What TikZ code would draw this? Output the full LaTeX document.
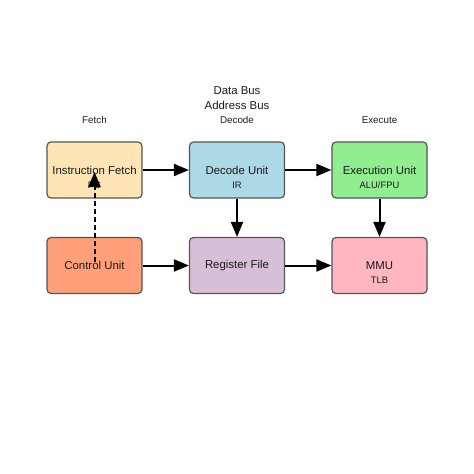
\documentclass[tikz,border=0pt]{standalone}
\usepackage{fontspec}
\setmainfont{Liberation Sans}
\usetikzlibrary{arrows.meta}

\definecolor{fetchfill}{HTML}{FFE4B5}
\definecolor{decodefill}{HTML}{ADD8E6}
\definecolor{execfill}{HTML}{90EE90}
\definecolor{controlfill}{HTML}{FFA07A}
\definecolor{regfill}{HTML}{D8BFD8}
\definecolor{mmufill}{HTML}{FFB6C1}
\definecolor{edge}{HTML}{555555}
\definecolor{ink}{HTML}{1A1A1A}

\begin{document}
\begin{tikzpicture}
  [x=1pt, y=-1pt,
   unit/.style={draw=edge, line width=1.2pt, rounded corners=4pt,
     minimum width=95pt, minimum height=56pt, text=ink,
     font=\fontsize{11.4}{13}\selectfont},
   sub/.style={text=ink, font=\fontsize{9.4}{11}\selectfont},
   stage/.style={text=ink, font=\fontsize{9.8}{12}\selectfont},
   bus/.style={text=ink, font=\fontsize{11.4}{13}\selectfont},
   flow/.style={line width=2pt, -{Triangle[length=15pt, width=12pt]}}]
  \useasboundingbox (0, 0) rectangle (474, 474);

  % bus labels and stage names
  \node[bus] (data) at (237, 91) {Data Bus};
  \node[bus] (addr) at (237, 105) {Address Bus};
  \node[stage] (s1) at (94.5, 120) {Fetch};
  \node[stage] (s2) at (237, 120) {Decode};
  \node[stage] (s3) at (379.5, 120) {Execute};

  % units
  \node[unit, fill=fetchfill] (fetch) at (94.5, 170) {Instruction Fetch};
  \node[sub] (pc) at (94.5, 185) {PC};
  \node[unit, fill=decodefill] (decode) at (237, 170) {Decode Unit};
  \node[sub] (ir) at (237, 185) {IR};
  \node[unit, fill=execfill] (exec) at (379.5, 170) {Execution Unit};
  \node[sub] (alu) at (379.5, 185) {ALU/FPU};
  \node[unit, fill=controlfill] (control) at (94.5, 265.5) {Control Unit};
  \node[unit, fill=regfill] (regs) at (237, 265.5) {Register File};
  \node[unit, fill=mmufill] (mmu) at (379.5, 265.5) {MMU};
  \node[sub] (tlb) at (379.5, 280) {TLB};

  % data paths
  \draw[flow] (fetch) -- (decode);
  \draw[flow] (decode) -- (exec);
  \draw[flow] (control) -- (regs);
  \draw[flow] (regs) -- (mmu);
  \draw[flow] (decode) -- (regs);
  \draw[flow] (exec) -- (mmu);
  \draw[flow, dash pattern=on 5pt off 3pt, shorten <=4pt, shorten >=2pt]
    (control.center) -- (fetch.center);
\end{tikzpicture}
\end{document}
